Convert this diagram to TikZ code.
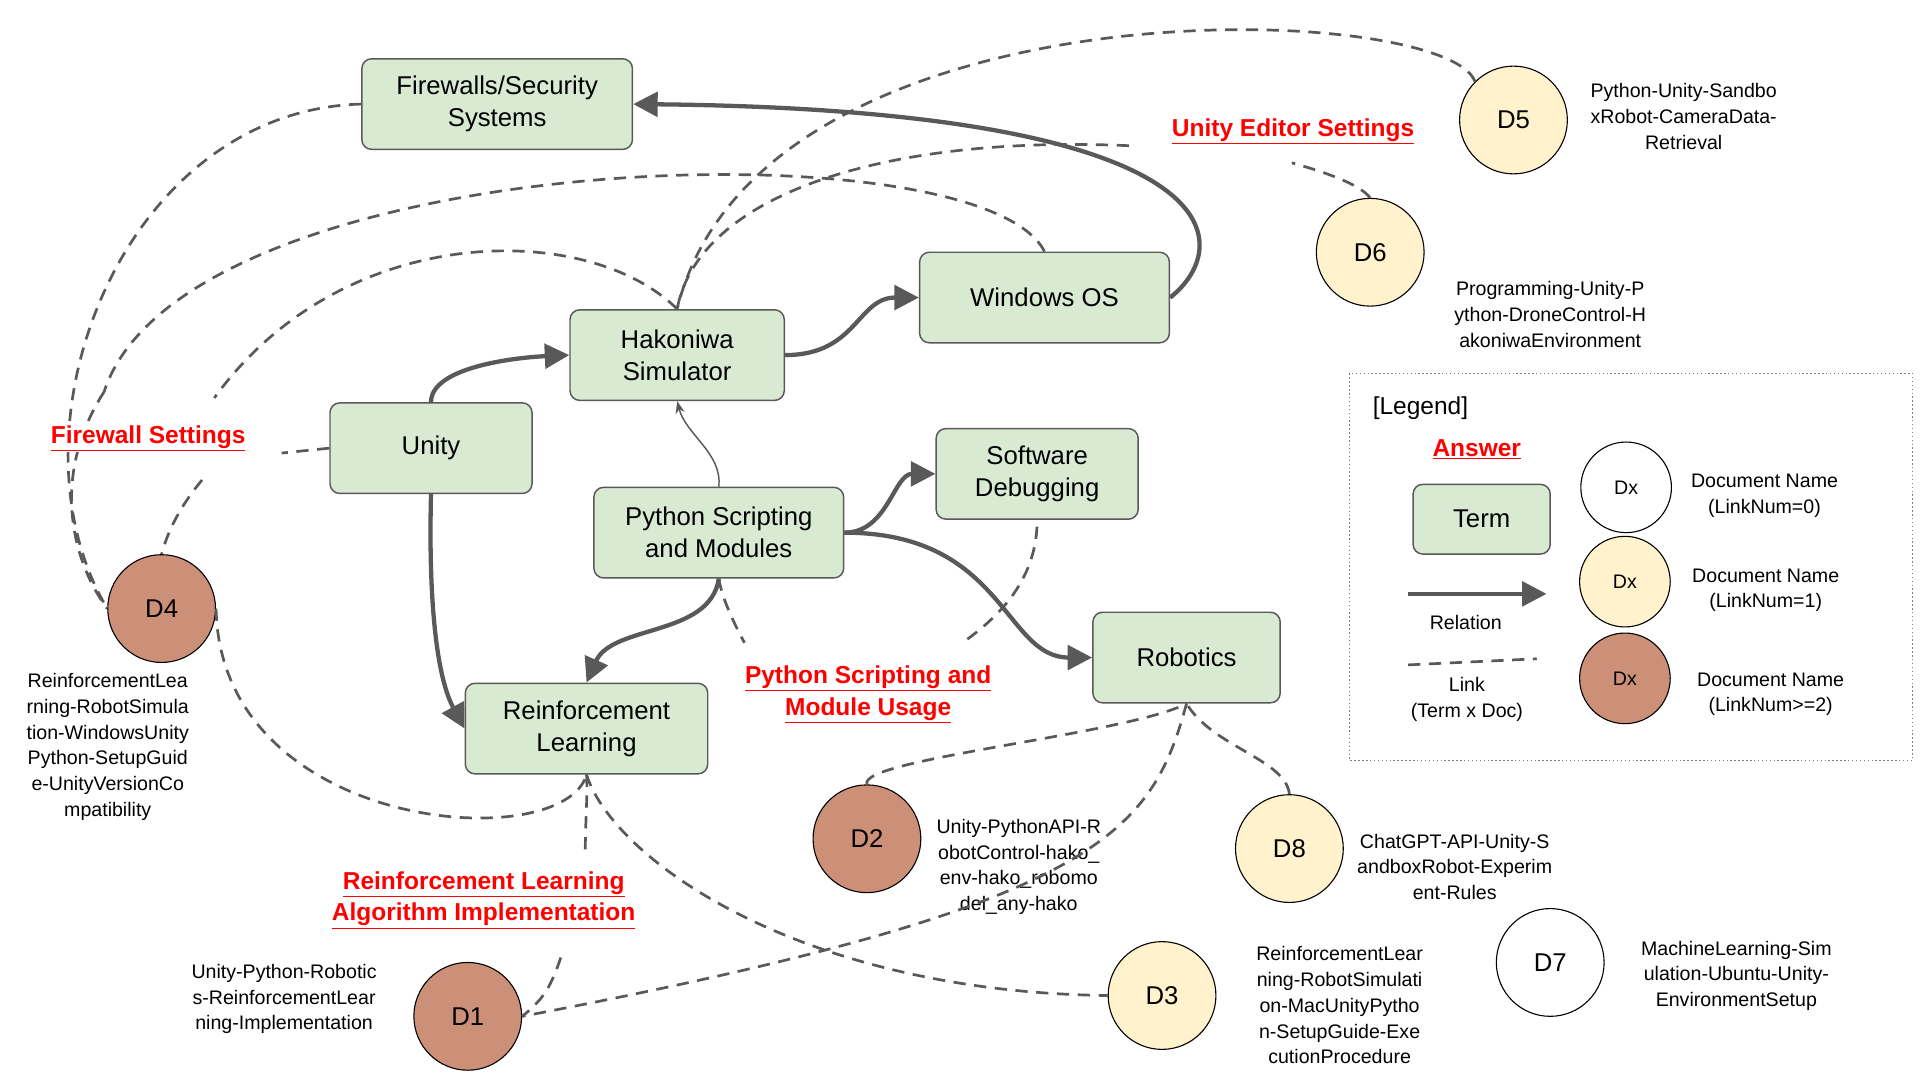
\documentclass[tikz,border=0pt]{standalone}
\usepackage{fontspec}
\setmainfont{Liberation Sans}
\usepackage{tikz}
\usetikzlibrary{arrows.meta, positioning}
\definecolor{termgreen}{HTML}{D9EAD3}
\definecolor{docyellow}{HTML}{FFF2CC}
\definecolor{docbrown}{HTML}{CC9079}
\definecolor{relgray}{HTML}{595959}
\tikzset{
  term/.style={rectangle, rounded corners=8pt, draw=relgray, line width=1.2pt, fill=termgreen, align=center, font=\fontsize{21}{26}\selectfont},
  doc/.style={circle, draw=black, line width=0.9pt, minimum size=88pt, inner sep=0pt, font=\fontsize{21}{25}\selectfont},
  docnone/.style={doc, fill=white},
  docone/.style={doc, fill=docyellow},
  docmany/.style={doc, fill=docbrown},
  dtext/.style={align=center, font=\fontsize{16}{21}\selectfont},
  ans/.style={align=center, text=red, fill=white, inner sep=1pt, font=\fontsize{20}{26}\selectfont\bfseries},
  rel/.style={draw=relgray, line width=3.5pt, -{Triangle[length=20pt,width=20pt]}},
  lnk/.style={draw=relgray, line width=2.2pt, dash pattern=on 10pt off 7pt},
}
\newcommand{\ul}[1]{\underline{#1}}
\begin{document}
\begin{tikzpicture}[x=1pt,y=-1pt]
\useasboundingbox (0,0) rectangle (1568,882);

% anchor points of the answer labels
\coordinate (aued-in) at (1055,133);
\coordinate (aued-out) at (922,119);
\coordinate (afw-in) at (230,370);
\coordinate (afw-out) at (165,392);
\coordinate (arl-in) at (478,695);
\coordinate (arl-out) at (458,782);
\coordinate (apy-in) at (608,525);
\coordinate (apy-out) at (790,522);

% terms
\node[term, minimum width=221pt, minimum height=74pt] (fw) at (406,85) {Firewalls/Security\\Systems};
\node[term, minimum width=204pt, minimum height=74pt] (win) at (853,243) {Windows OS};
\node[term, minimum width=175pt, minimum height=74pt] (hako) at (553,290) {Hakoniwa\\Simulator};
\node[term, minimum width=165pt, minimum height=74pt] (unity) at (352,366) {Unity};
\node[term, minimum width=204pt, minimum height=74pt] (py) at (587,435) {Python Scripting\\and Modules};
\node[term, minimum width=165pt, minimum height=74pt] (dbg) at (847,387) {Software\\Debugging};
\node[term, minimum width=153pt, minimum height=74pt] (robo) at (969,537) {Robotics};
\node[term, minimum width=198pt, minimum height=74pt] (rl) at (479,595) {Reinforcement\\Learning};

% documents
\node[docone] (d5) at (1236,98) {D5};
\node[docone] (d6) at (1119,206) {D6};
\node[docmany] (d4) at (132,497) {D4};
\node[docmany] (d2) at (708,685) {D2};
\node[docone] (d8) at (1053,693) {D8};
\node[docone] (d3) at (949,813) {D3};
\node[docmany] (d1) at (382,830) {D1};
\node[docnone] (d7) at (1266,786) {D7};

\node[dtext] (t5) at (1375,95) {Python-Unity-Sandbo\\xRobot-CameraData-\\Retrieval};
\node[dtext] (t6) at (1266,257) {Programming-Unity-P\\ython-DroneControl-H\\akoniwaEnvironment};
\node[dtext] (t4) at (88,610) {ReinforcementLea\\rning-RobotSimula\\tion-WindowsUnity\\Python-SetupGuid\\e-UnityVersionCo\\mpatibility};
\node[dtext] (t2) at (832,708) {Unity-PythonAPI-R\\obotControl-hako\_\\env-hako\_robomo\\del\_any-hako};
\node[dtext] (t8) at (1188,708) {ChatGPT-API-Unity-S\\andboxRobot-Experim\\ent-Rules};
\node[dtext] (t3) at (1094,821) {ReinforcementLear\\ning-RobotSimulati\\on-MacUnityPytho\\n-SetupGuide-Exe\\cutionProcedure};
\node[dtext] (t1) at (232,816) {Unity-Python-Robotic\\s-ReinforcementLear\\ning-Implementation};
\node[dtext] (t7) at (1418,797) {MachineLearning-Sim\\ulation-Ubuntu-Unity-\\EnvironmentSetup};

% relations
\draw[rel] (win.east) .. controls (1010,200) and (1010,90) .. (fw.east);
\draw[rel] (hako.east) .. controls (700,290) and (700,243) .. (win.west);
\draw[rel] (unity.north) .. controls (352,300) and (420,292) .. (hako.west);
\draw[rel] (unity.south) .. controls (350,480) and (355,550) .. (rl.west);
\draw[draw=relgray, line width=1.2pt, -{Stealth[length=10pt]}] (py.north) .. controls (590,370) and (560,355) .. (hako.south);
\draw[rel] (py.east) .. controls (725,435) and (730,387) .. (dbg.west);
\draw[rel] (py.east) .. controls (820,435) and (820,537) .. (robo.west);
\draw[rel] (py.south) .. controls (580,520) and (500,510) .. (rl.north);

% links
\draw[lnk] (d5.north west) .. controls (1180,0) and (620,-20) .. (hako.north);
\draw[lnk] (d6.north) .. controls (1110,150) and (1080,140) .. (aued-in);
\draw[lnk] (aued-out) .. controls (720,110) and (570,160) .. (hako.north);
\draw[lnk] (win.north) .. controls (800,100) and (150,120) .. (85,320);
\draw[lnk] (85,320) .. controls (40,390) and (60,460) .. (d4.west);
\draw[lnk] (hako.north) .. controls (480,180) and (280,180) .. (175,325);
\draw[lnk] (fw.west) .. controls (100,90) and (0,350) .. (d4.west);
\draw[lnk] (unity.west) -- (afw-in);
\draw[lnk] (afw-out) .. controls (150,410) and (138,430) .. (d4.north);
\draw[lnk] (d4.east) .. controls (180,680) and (460,700) .. (rl.south);
\draw[lnk] (py.south) .. controls (590,490) and (600,510) .. (apy-in);
\draw[lnk] (apy-out) .. controls (820,500) and (847,470) .. (dbg.south);
\draw[lnk] (d2.north) .. controls (700,620) and (920,600) .. (robo.south);
\draw[lnk] (d8.north) .. controls (1050,620) and (990,610) .. (robo.south);
\draw[lnk] (robo.south) .. controls (940,680) and (900,740) .. (d1.east);
\draw[lnk] (rl.south) .. controls (480,650) and (478,670) .. (arl-in);
\draw[lnk] (arl-out) .. controls (450,805) and (445,815) .. (d1.east);
\draw[lnk] (rl.south) .. controls (500,700) and (650,810) .. (d3.west);

% answers
\node[ans] (aued) at (1056,107) {\ul{Unity Editor Settings}};
\node[ans] (afw) at (121,358) {\ul{Firewall Settings}};
\node[ans] (apy) at (709,567) {\ul{Python Scripting and}\\\ul{Module Usage}};
\node[ans] (arl) at (395,735) {\ul{Reinforcement Learning}\\\ul{Algorithm Implementation}};

% legend
\draw[gray, line width=1.2pt, dotted] (1102,305) rectangle (1562,621);
\node[font=\fontsize{20}{24}\selectfont] (lgd) at (1160,333) {[Legend]};
\node[ans] (lans) at (1206,367) {\ul{Answer}};
\node[term, minimum width=112pt, minimum height=57pt] (lterm) at (1210,424) {Term};
\coordinate (lr1) at (1150,485);
\coordinate (lr2) at (1263,485);
\draw[rel] (lr1) -- (lr2);
\node[dtext] (lrt) at (1197,508) {Relation};
\coordinate (ll1) at (1150,543);
\coordinate (ll2) at (1255,538);
\draw[lnk] (ll1) -- (ll2);
\node[dtext] (llt) at (1198,571) {Link\\(Term x Doc)};
\node[docnone, minimum size=74pt, font=\fontsize{16}{20}\selectfont] (lc0) at (1328,398) {Dx};
\node[docone, minimum size=74pt, font=\fontsize{16}{20}\selectfont] (lc1) at (1327,475) {Dx};
\node[docmany, minimum size=74pt, font=\fontsize{16}{20}\selectfont] (lc2) at (1327,554) {Dx};
\node[dtext] (lt0) at (1441,405) {Document Name\\(LinkNum=0)};
\node[dtext] (lt1) at (1442,482) {Document Name\\(LinkNum=1)};
\node[dtext] (lt2) at (1446,567) {Document Name\\(LinkNum>=2)};
\end{tikzpicture}
\end{document}
